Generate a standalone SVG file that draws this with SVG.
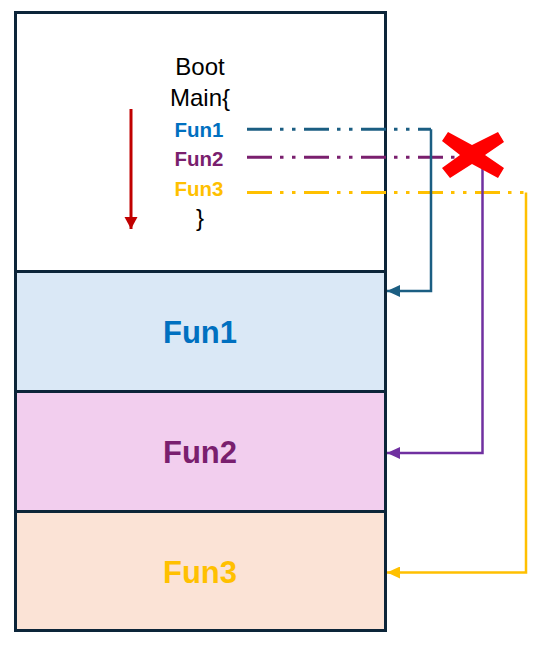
<svg xmlns="http://www.w3.org/2000/svg" width="545" height="671" viewBox="0 0 545 671">
<defs>
<style>
.frame{stroke:#0C2539;stroke-width:3;}
.lbl{font-family:"Liberation Sans",Arial,sans-serif;text-anchor:middle;}
.big{font-size:31px;font-weight:bold;}
.small{font-size:20.5px;font-weight:bold;}
.code{font-size:24px;fill:#000;}
.dash{fill:none;stroke-width:3;stroke-dasharray:25 8 3.5 8.5 3.5 8.5;}
.conn{fill:none;stroke-width:2.5;}
</style>
<marker id="a1" markerUnits="userSpaceOnUse" markerWidth="14" markerHeight="12" viewBox="0 0 14 12" refX="13" refY="6" orient="auto"><path d="M0,0 L13,6 L0,12 Z" fill="#1B5E82"/></marker>
<marker id="a2" markerUnits="userSpaceOnUse" markerWidth="14" markerHeight="12" viewBox="0 0 14 12" refX="13" refY="6" orient="auto"><path d="M0,0 L13,6 L0,12 Z" fill="#7030A0"/></marker>
<marker id="a3" markerUnits="userSpaceOnUse" markerWidth="14" markerHeight="12" viewBox="0 0 14 12" refX="13" refY="6" orient="auto"><path d="M0,0 L13,6 L0,12 Z" fill="#FFC000"/></marker>
<marker id="ar" markerUnits="userSpaceOnUse" markerWidth="14" markerHeight="14" viewBox="0 0 14 14" refX="12" refY="6.5" orient="auto"><path d="M0,0 L12,6.5 L0,13 Z" fill="#C00000"/></marker>
</defs>
<rect width="545" height="671" fill="#fff"/>

<g id="main">
<rect class="frame" x="15.5" y="12.5" width="370" height="259" fill="#fff"/>
<text class="lbl code" x="200" y="75">Boot</text>
<text class="lbl code" x="200" y="106">Main{</text>
<text class="lbl small" x="199" y="137" fill="#0070C0">Fun1</text>
<text class="lbl small" x="199" y="166" fill="#7A1F6E">Fun2</text>
<text class="lbl small" x="199" y="195.5" fill="#FFC000">Fun3</text>
<text class="lbl code" x="200" y="226">}</text>
<line x1="131" y1="109" x2="131" y2="229" stroke="#C00000" stroke-width="3" marker-end="url(#ar)"/>
</g>

<g id="fun1">
<rect class="frame" x="15.5" y="271.5" width="370" height="120" fill="#DAE8F6"/>
<text class="lbl big" x="200" y="343" fill="#0070C0">Fun1</text>
</g>
<g id="fun2">
<rect class="frame" x="15.5" y="391.5" width="370" height="120" fill="#F2CEEE"/>
<text class="lbl big" x="200" y="463" fill="#7A1F6E">Fun2</text>
</g>
<g id="fun3">
<rect class="frame" x="15.5" y="511.5" width="370" height="119" fill="#FBE3D6"/>
<text class="lbl big" x="200" y="583" fill="#FFC000">Fun3</text>
</g>

<g id="connectors">
<line class="dash" x1="247" y1="129.3" x2="431" y2="129.3" stroke="#1B5E82"/>
<line class="dash" x1="247" y1="157.3" x2="470" y2="157.3" stroke="#7A1F6E"/>
<line class="dash" x1="247" y1="192.5" x2="526" y2="192.5" stroke="#FFC000"/>
<path class="conn" d="M431,129.3 V291 H387" stroke="#1B5E82" marker-end="url(#a1)"/>
<path class="conn" d="M482.5,160 V453 H387" stroke="#7030A0" marker-end="url(#a2)"/>
<path class="conn" d="M526,192.5 V572.5 H387" stroke="#FFC000" marker-end="url(#a3)"/>
</g>

<g id="cross">
<polygon fill="#FF0000" points="448,132 472,145 498,132 504,142 485,155 504,168 498,178 472,164 450,178 442,168 460,155 442,141"/>
</g>
</svg>
